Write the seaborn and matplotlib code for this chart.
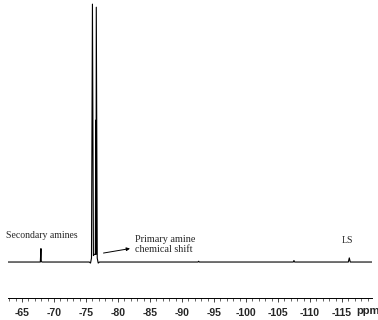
import numpy as np
import pandas as pd
import matplotlib
matplotlib.use("Agg")
import matplotlib.pyplot as plt
import seaborn as sns

# spectrum trace (ppm, relative intensity)
shift_ppm = [-62.8, -67.85, -67.95, -68.0, -68.1, -75.5, -75.7, -75.85, -76.0,
             -76.15, -76.3, -76.45, -76.52, -76.56, -76.6, -76.75, -76.9, -77.1,
             -92.5, -92.6, -92.7, -107.4, -107.5, -107.6, -116.0, -116.15,
             -116.3, -119.7]
intensity = [0.0, 0.0, 5.2, 0.4, 0.0, 0.0, -0.4, 1.5, 100.0,
             2.5, 3.0, 3.0, 55.0, 3.0, 98.8, 1.5, -0.4, 0.0,
             0.0, 0.3, 0.0, 0.0, 0.6, 0.0, 0.0, 1.6,
             0.0, 0.0]

major_ticks = list(range(-65, -116, -5))
tick_labels = [str(t) for t in major_ticks]

df = pd.DataFrame({"ppm": shift_ppm, "intensity": intensity})

sns.set_style("white")

fig = plt.figure(figsize=(3.78, 3.2), dpi=100)
ax = fig.add_axes([8 / 378, 22 / 320, 364 / 378, 298 / 320])

sns.lineplot(data=df, x="ppm", y="intensity", sort=False, estimator=None,
             color="black", linewidth=0.8, ax=ax)

ax.set_xlim(-62.8, -119.7)
ax.set_ylim(-13.95, 101.6)

for side in ["top", "left", "right"]:
    ax.spines[side].set_visible(False)
ax.spines["bottom"].set_color("black")
ax.spines["bottom"].set_linewidth(0.7)

ax.set_yticks([])
ax.set_xticks(major_ticks)
ax.set_xticklabels(tick_labels, fontfamily="Liberation Sans",
                   fontweight="bold", fontsize=7.5)
ax.set_xticks(list(range(-63, -120, -1)), minor=True)
ax.tick_params(axis="x", which="major", direction="out", length=3,
               width=0.6, pad=4, bottom=True)
ax.tick_params(axis="x", which="minor", direction="out", length=1.8,
               width=0.5, bottom=True)
ax.set_xlabel("")
ax.set_ylabel("")

serif = "Liberation Serif"
ax.text(-62.5, 10.2, "Secondary amines", fontfamily=serif, fontsize=7,
        ha="left", va="center")
ax.text(-82.6, 6.9, "Primary amine\nchemical shift", fontfamily=serif,
        fontsize=7.3, ha="left", va="center", linespacing=1.15)
ax.annotate("", xy=(-82.3, 5.4), xytext=(-77.3, 3.3),
            arrowprops=dict(arrowstyle="-|>", color="black", lw=0.7,
                            mutation_scale=5))
ax.text(-115.9, 8.5, "LS", fontfamily=serif, fontsize=7, ha="center",
        va="center")
ax.text((356 - 8) / 364, -13 / 298, "ppm", transform=ax.transAxes,
        fontfamily="Liberation Sans", fontweight="bold", fontsize=8,
        ha="left", va="center")

fig.savefig("out.png", dpi=100)
